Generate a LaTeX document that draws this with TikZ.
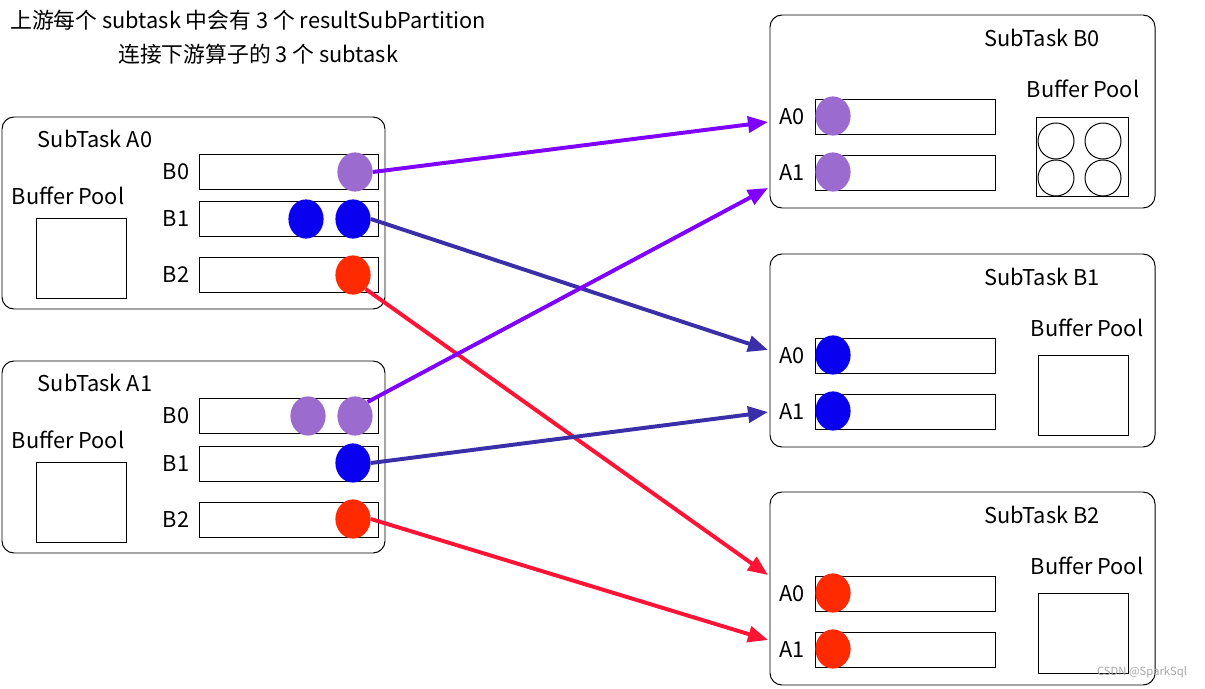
\documentclass[tikz,border=0pt]{standalone}
\usepackage{fontspec}
\setmainfont{Noto Sans CJK SC}
\usetikzlibrary{arrows.meta,positioning,shapes.geometric}
\definecolor{lpurple}{HTML}{9B6BD0}
\definecolor{dblue}{HTML}{0A00F0}
\definecolor{dred}{HTML}{FF2A00}
\definecolor{apurple}{HTML}{7F00FF}
\definecolor{ablue}{HTML}{3A2FA8}
\definecolor{ared}{HTML}{FF1436}
\tikzset{
 task/.style={draw, rounded corners=3mm, line width=0.7pt},
 slot/.style={draw, line width=0.7pt},
 dot/.style={ellipse, minimum width=0.88cm, minimum height=0.98cm, inner sep=0pt, fill=#1},
 lab/.style={font=\fontsize{15.5}{18}\selectfont, inner sep=0pt},
 link/.style={-{Triangle[length=5mm,width=4mm]}, line width=2.8pt, draw=#1},
}
\begin{document}
\begin{tikzpicture}[x=0.025cm, y=-0.025cm]
 \useasboundingbox (0,0) rectangle (1205,689);
 \node[lab, anchor=west] (t1) at (10,20) {上游每个 subtask 中会有 3 个 resultSubPartition};
 \node[lab, anchor=west] (t2) at (118,54) {连接下游算子的 3 个 subtask};
 % upstream tasks
 \foreach \n/\y in {A0/117, A1/361} {
  \draw[task] (2,\y) rectangle (385,\y+192);
  \node[lab] at (95,\y+22) {SubTask \n};
  \node[lab] at (68,\y+79) {Buffer Pool};
  \draw[slot] (36,\y+101) rectangle (126,\y+181);
 }
 \foreach \y/\l in {154/B0, 201/B1, 257/B2, 398/B0, 446/B1, 502/B2} {
  \draw[slot] (199,\y) rectangle (378,\y+35);
  \node[lab] at (176,\y+18) {\l};
 }
 \node[dot=lpurple] (a0b0) at (355,172) {};
 \node[dot=dblue] at (306,219) {};
 \node[dot=dblue] (a0b1) at (353,219) {};
 \node[dot=dred] (a0b2) at (353,275) {};
 \node[dot=lpurple] at (308,416) {};
 \node[dot=lpurple] (a1b0) at (355,416) {};
 \node[dot=dblue] (a1b1) at (353,463) {};
 \node[dot=dred] (a1b2) at (353,519) {};
 % downstream tasks
 \foreach \n/\y/\c in {B0/15/lpurple, B1/254/dblue, B2/492/dred} {
  \draw[task] (770,\y) rectangle (1155,\y+193);
  \node[lab] at (1042,\y+23) {SubTask \n};
  \draw[slot] (815,\y+84) rectangle (995,\y+119);
  \draw[slot] (815,\y+140) rectangle (995,\y+175);
  \node[lab] at (792,\y+102) {A0};
  \node[lab] at (792,\y+158) {A1};
  \node[dot=\c] at (833,\y+101) {};
  \node[dot=\c] at (833,\y+157) {};
 }
 \node[lab] at (1083,89) {Buffer Pool};
 \draw[slot] (1036,117) rectangle (1128,196);
 \foreach \px/\py in {1056/141, 1103/141, 1056/178, 1103/178}
  \draw[line width=0.7pt] (\px,\py) circle (0.45cm);
 \foreach \y in {254, 492} {
  \node[lab] at (1087,\y+74) {Buffer Pool};
  \draw[slot] (1038,\y+101) rectangle (1128,\y+181);
 }
 \coordinate (b0a0) at (768,122);
 \coordinate (b0a1) at (768,188);
 \coordinate (b1a0) at (768,350);
 \coordinate (b1a1) at (768,412);
 \coordinate (b2a0) at (768,575);
 \coordinate (b2a1) at (768,640);
 \draw[link=apurple] (a0b0.east) -- (b0a0);
 \draw[link=ablue] (a0b1.east) -- (b1a0);
 \draw[link=ared] (a0b2.south east) -- (b2a0);
 \draw[link=apurple] (a1b0.north east) -- (b0a1);
 \draw[link=ablue] (a1b1.east) -- (b1a1);
 \draw[link=ared] (a1b2.east) -- (b2a1);
 \node[font=\fontsize{8}{10}\selectfont, text=gray!70, inner sep=0pt] (wm) at (1142,672) {CSDN @SparkSql};
\end{tikzpicture}
\end{document}
